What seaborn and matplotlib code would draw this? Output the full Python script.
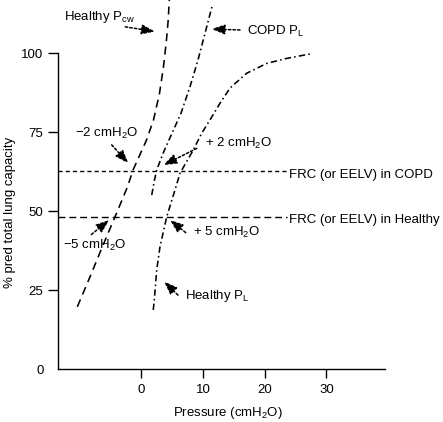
import matplotlib
matplotlib.use("Agg")
import matplotlib.pyplot as plt
import seaborn as sns

# ---- data ----
pcw_healthy_x = [-10.37, -8.31, -6.53, -4.26, -2.24, -1.35, 0.84, 1.98, 2.95, 3.6, 4.08, 4.36, 4.54]
pcw_healthy_y = [19.7, 29.2, 37.7, 48.2, 57.7, 63.0, 72.5, 78.9, 87.3, 95.8, 104.2, 110.5, 116.9]

pl_copd_x = [1.69, 2.14, 2.5, 3.52, 4.98, 6.43, 7.89, 9.19, 10.32, 11.46]
pl_copd_y = [55.1, 59.9, 63.0, 68.3, 74.7, 81.0, 89.4, 97.9, 106.3, 114.8]

pl_healthy_x = [1.94, 2.11, 2.5, 3.03, 4.12, 5.46, 6.27, 8.43, 9.79, 11.13, 12.76,
                14.38, 17.08, 20.32, 23.57, 27.34]
pl_healthy_y = [18.7, 21.9, 31.4, 38.7, 48.2, 56.7, 62.0, 69.4, 74.7, 78.9, 84.2,
                89.0, 93.7, 96.8, 98.4, 99.8]

frc_copd = 62.8
frc_healthy = 48.2
frc_x_range = (-13.5, 23.6)

x_ticks = [0, 10, 20, 30]
y_ticks = [0, 25, 50, 75, 100]

sns.set_theme(style="ticks")
plt.rcParams["font.family"] = ["Liberation Sans", "DejaVu Sans"]
plt.rcParams["mathtext.fontset"] = "custom"
plt.rcParams["mathtext.rm"] = "Liberation Sans"
plt.rcParams["mathtext.it"] = "Liberation Sans:italic"
plt.rcParams["mathtext.bf"] = "Liberation Sans:bold"

FS = 9.5
fig = plt.figure(figsize=(4.43, 4.22), dpi=100)
ax = fig.add_axes([58 / 443, 53 / 422, 327 / 443, 369 / 422])
ax.set_facecolor("white")
fig.patch.set_facecolor("white")

lw = 1.15
dashdot = (0, (4.0, 2.0, 1.0, 2.0))
sns.lineplot(x=pcw_healthy_x, y=pcw_healthy_y, ax=ax, color="black", lw=lw,
             sort=False, estimator=None, linestyle=(0, (5, 3.4)))
sns.lineplot(x=pl_copd_x, y=pl_copd_y, ax=ax, color="black", lw=lw,
             sort=False, estimator=None, linestyle=dashdot)
sns.lineplot(x=pl_healthy_x, y=pl_healthy_y, ax=ax, color="black", lw=lw,
             sort=False, estimator=None, linestyle=dashdot)

ax.hlines(frc_copd, *frc_x_range, color="black", lw=1.0, linestyle=(0, (3.0, 2.2)))
ax.hlines(frc_healthy, *frc_x_range, color="black", lw=1.0, linestyle=(0, (5.0, 2.8)))

ax.set_xlim(-13.5, 39.5)
ax.set_ylim(0, 116.9)
ax.spines["top"].set_visible(False)
ax.spines["right"].set_visible(False)
ax.spines["left"].set_bounds(0, 100)
for s in ("left", "bottom"):
    ax.spines[s].set_linewidth(1.0)
    ax.spines[s].set_color("black")

ax.set_xticks(x_ticks)
ax.set_yticks(y_ticks)
ax.tick_params(axis="x", length=6.5, width=1.0, pad=4.5, labelsize=FS, colors="black")
ax.tick_params(axis="y", length=7, width=1.0, pad=3.5, labelsize=FS, colors="black")
ax.yaxis.get_major_ticks()[0].tick1line.set_visible(False)

ax.set_xlabel("Pressure (cmH$_2$O)", fontsize=FS, color="black")
ax.xaxis.set_label_coords((228 - 58) / 327, (369 - 415.7) / 369)
ax.xaxis.label.set_va("baseline")
ax.set_ylabel("% pred total lung capacity", fontsize=FS, color="black")
ax.yaxis.label.set_va("center")
ax.yaxis.set_label_coords((10 - 58) / 327, (369 - 212) / 369)

# text labels: (text, x, y baseline)
labels = [
    ("Healthy P$_{\\mathrm{cw}}$", -12.5, 110.7),
    ("COPD P$_{\\mathrm{L}}$", 17.1, 105.8),
    ("\u22122 cmH$_2$O", -10.8, 73.4),
    ("+ 2 cmH$_2$O", 10.4, 70.4),
    ("\u22125 cmH$_2$O", -12.7, 38.2),
    ("+ 5 cmH$_2$O", 8.4, 42.1),
    ("Healthy P$_{\\mathrm{L}}$", 7.1, 22.1),
    ("FRC (or EELV) in COPD", 24.0, 60.6),
    ("FRC (or EELV) in Healthy", 24.0, 46.1),
]
for t, x, y in labels:
    ax.text(x, y, t, fontsize=FS, ha="left", va="baseline", color="black",
            clip_on=False)

# arrows: (tail_x, tail_y, head_x, head_y)
arrows = [
    (-2.6, 108.4, 2.2, 106.9),
    (16.0, 107.4, 11.4, 107.7),
    (-4.8, 71.0, -2.1, 65.2),
    (9.0, 69.9, 3.6, 64.6),
    (-8.1, 42.6, -5.2, 47.2),
    (7.2, 43.2, 4.65, 47.2),
    (5.95, 23.4, 3.7, 27.7),
]
for tx, ty, hx, hy in arrows:
    ax.annotate("", xy=(hx, hy), xytext=(tx, ty),
                arrowprops=dict(arrowstyle="-|>,head_length=0.8,head_width=0.3",
                                color="black", lw=1.1, linestyle=(0, (1.6, 1.4)),
                                shrinkA=0, shrinkB=0, mutation_scale=10),
                annotation_clip=False)

fig.savefig("out.png", dpi=100, facecolor="white")
